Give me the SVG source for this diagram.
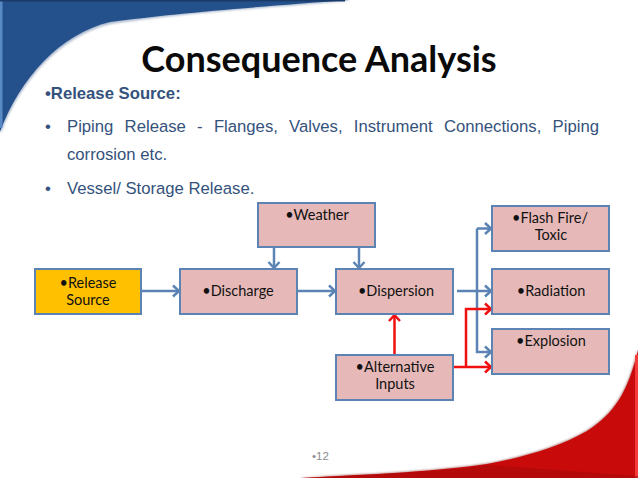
<svg xmlns="http://www.w3.org/2000/svg" width="638" height="478" viewBox="0 0 638 478">
  <style>
    .box { fill: #e6b9b8; stroke: #5b84b5; stroke-width: 2; }
    .src { fill: #ffc000; stroke: #5b84b5; stroke-width: 2; }
    .nt { font-family: "Lato", "Liberation Sans", sans-serif; font-size: 14.5px; fill: #111; text-anchor: middle; }
    .body { font-family: "Liberation Sans", Arial, sans-serif; font-size: 16.7px; fill: #34527c; }
    .blue { fill: none; stroke: #5b84b5; stroke-width: 2.5; }
    .red { fill: none; stroke: #f01010; stroke-width: 2.5; }
    .title { font-family: "Lato", "Liberation Sans", sans-serif; font-size: 36px; font-weight: 700; fill: #0a0a0a; text-anchor: middle; }
  </style>
  <defs>
    <marker id="ab" markerUnits="userSpaceOnUse" markerWidth="12" markerHeight="14" refX="10" refY="7" orient="auto">
      <path d="M4 1.5 L10 7 L4 12.500" fill="none" stroke="#5b84b5" stroke-width="2.5"/>
    </marker>
    <marker id="ar" markerUnits="userSpaceOnUse" markerWidth="12" markerHeight="14" refX="10" refY="7" orient="auto">
      <path d="M4 1.5 L10 7 L4 12.500" fill="none" stroke="#f01010" stroke-width="2.5"/>
    </marker>
    <filter id="soft" x="-10%" y="-10%" width="120%" height="120%"><feGaussianBlur stdDeviation="1"/></filter>
  </defs>
  <rect width="638" height="478" fill="#ffffff"/>
  <g id="corner-top">
    <path d="M0 0 H350 C240 8 170 14 110 23 C60 35 20 79 0 133 Z" fill="#a9b8cc" filter="url(#soft)" transform="translate(0.500 1)"/>
    <path d="M0 0 H350 C240 8 170 14 110 22 C60 34 20 78 0 132 Z" fill="#24508c"/>
    <rect x="0" y="0" width="2.5" height="128" fill="#5a8ac6"/>
    <rect x="0" y="0" width="345" height="1.5" fill="#1a3a68"/>
  </g>
  <g id="corner-bottom">
    <path d="M638 350 C628 392 614 414 587 431 C560 447 520 458 487 464 C440 471 380 474 300 478 H638 Z" fill="#7a2020" filter="url(#soft)" transform="translate(-0.500 -0.500)" opacity="0.6"/>
    <path d="M638 350 C628 392 614 414 587 431 C560 447 520 458 487 464 C440 471 380 474 300 478 H638 Z" fill="#c90a0a"/>
    <rect x="635" y="355" width="3" height="123" fill="#f53a3a"/>
    <path d="M300 478 C380 474 440 472 487 465 L638 476 V478 Z" fill="#a00a0a" opacity="0.5"/>
  </g>
  <g id="title"><text class="title" x="319" y="72">Consequence Analysis</text></g>
  <g id="body-text">
    <text class="body" x="45" y="99" font-weight="700">•Release Source:</text>
    <text class="body" x="45" y="132">•</text>
    <text class="body" x="67" y="132" word-spacing="6.6">Piping Release - Flanges, Valves, Instrument Connections, Piping</text>
    <text class="body" x="67" y="160">corrosion etc.</text>
    <text class="body" x="45" y="194">•</text>
    <text class="body" x="67" y="194">Vessel/ Storage Release.</text>
  </g>
  <g id="connectors">
    <path class="blue" d="M141 291 H179" marker-end="url(#ab)"/>
    <path class="blue" d="M297 291 H335" marker-end="url(#ab)"/>
    <path class="blue" d="M274 247 V268" marker-end="url(#ab)"/>
    <path class="blue" d="M359 247 V268" marker-end="url(#ab)"/>
    <path class="blue" d="M457 291 H491" marker-end="url(#ab)"/>
    <path class="blue" d="M477 228.500 H491" marker-end="url(#ab)"/>
    <path class="blue" d="M477 228.500 V352 H491" marker-end="url(#ab)"/>
    <path class="red" d="M453 367 H491" marker-end="url(#ar)"/>
    <path class="red" d="M466 367 V309 H491" marker-end="url(#ar)"/>
    <path class="red" d="M394.500 355 V315" marker-end="url(#ar)"/>
  </g>
  <g id="node-release"><rect class="src" x="35" y="269" width="106" height="45"/><text class="nt" x="88" y="288">•Release</text><text class="nt" x="88" y="305">Source</text></g>
  <g id="node-discharge"><rect class="box" x="180" y="269" width="117" height="45"/><text class="nt" x="238" y="296">•Discharge</text></g>
  <g id="node-dispersion"><rect class="box" x="336" y="269" width="117" height="45"/><text class="nt" x="396" y="296">•Dispersion</text></g>
  <g id="node-weather"><rect class="box" x="258" y="203" width="117" height="44"/><text class="nt" x="317" y="220">•Weather</text></g>
  <g id="node-flash"><rect class="box" x="492" y="206" width="117" height="45"/><text class="nt" x="550" y="223">•Flash Fire/</text><text class="nt" x="551" y="240">Toxic</text></g>
  <g id="node-radiation"><rect class="box" x="492" y="269" width="117" height="45"/><text class="nt" x="551" y="296">•Radiation</text></g>
  <g id="node-explosion"><rect class="box" x="492" y="329" width="117" height="45"/><text class="nt" x="551" y="346">•Explosion</text></g>
  <g id="node-alternative"><rect class="box" x="336" y="355" width="117" height="45"/><text class="nt" x="395" y="372">•Alternative</text><text class="nt" x="395" y="389">Inputs</text></g>
  <g id="page-number"><text x="312" y="460" font-family="Liberation Sans, Arial, sans-serif" font-size="11.5" fill="#8c8c8c">•12</text></g>
</svg>
